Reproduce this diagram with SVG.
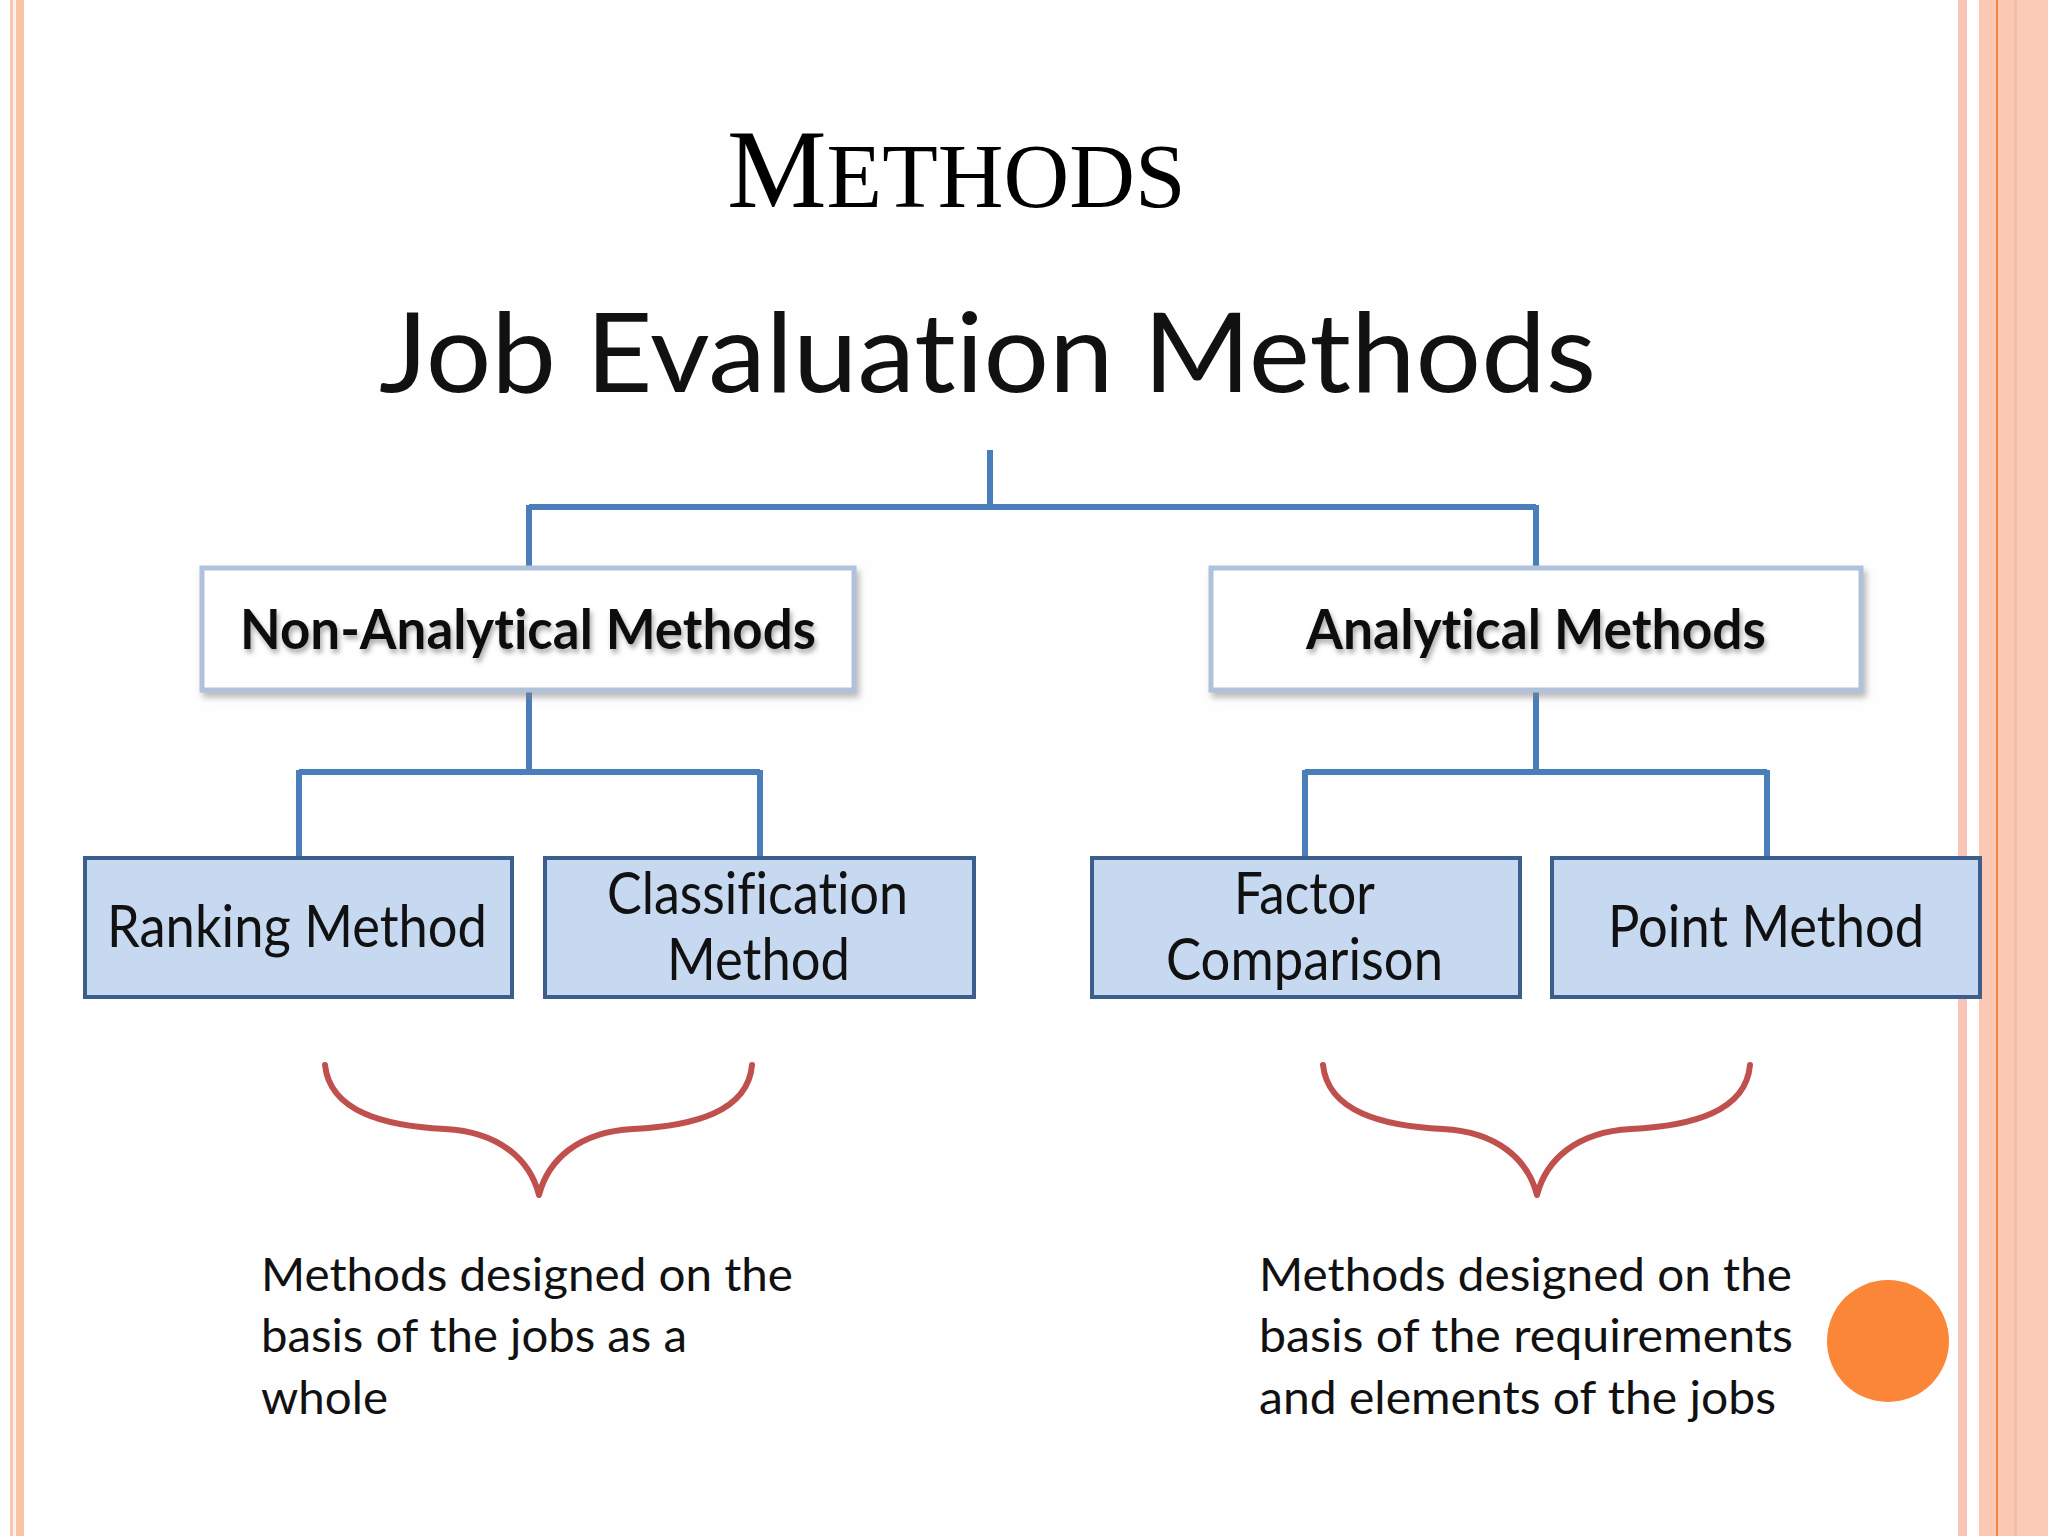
<svg xmlns="http://www.w3.org/2000/svg" width="2048" height="1536" viewBox="0 0 2048 1536">
<defs>
<style>
.conn{fill:none;stroke:#4a7ebb;stroke-width:6;stroke-linecap:butt}
.top{fill:#ffffff;stroke:#afc1db;stroke-width:5}
.bot{fill:#c6d9f0;stroke:#3b5e8c;stroke-width:4}
.brace{fill:none;stroke:#c0504d;stroke-width:6;stroke-linecap:round;stroke-linejoin:round}
.sans{font-family:Lato,"Liberation Sans",sans-serif;fill:#111111;font-variant-ligatures:none;font-feature-settings:"liga" 0,"dlig" 0}
.hb{font-size:55px;font-weight:700}
.bt{font-size:58px}
.dt{font-size:46px}
</style>
<filter id="sh" x="-5%" y="-10%" width="110%" height="130%">
<feDropShadow dx="3" dy="5" stdDeviation="3" flood-color="#7f7f7f" flood-opacity="0.55"/>
</filter>
<filter id="tsh" x="-5%" y="-20%" width="110%" height="150%">
<feDropShadow dx="2" dy="4" stdDeviation="2.5" flood-color="#6f6f6f" flood-opacity="0.6"/>
</filter>
</defs>
<rect width="2048" height="1536" fill="#fefefe"/>
<g id="border">
<rect x="10" y="0" width="3" height="1536" fill="#f7c4b8"/>
<rect x="13" y="0" width="3" height="1536" fill="#fdf1ea"/>
<rect x="16" y="0" width="8" height="1536" fill="#f9c3a5"/>
<rect x="1958" y="0" width="9" height="1536" fill="#f9c5b8"/>
<rect x="1979" y="0" width="69" height="1536" fill="#fbc8b3"/>
<rect x="1996" y="0" width="2" height="1536" fill="#f08548"/>
<rect x="2014" y="0" width="3" height="1536" fill="#f6bda6"/>
<rect x="2017" y="0" width="31" height="1536" fill="#facbb6"/>
</g>
<g id="heading">
<text x="727" y="207" font-family="'Liberation Serif',serif" fill="#000"><tspan font-size="112">M</tspan><tspan font-size="91">ETHODS</tspan></text>
</g>
<g id="root">
<text class="sans" x="379" y="392" font-size="110" textLength="1217" lengthAdjust="spacingAndGlyphs">Job Evaluation Methods</text>
</g>
<g id="connectors">
<path class="conn" d="M990,450 V507 M529,507 H1536 M529,505 V568 M1536,505 V568"/>
<path class="conn" d="M529,690 V772 M299,772 H760 M299,770 V858 M760,770 V858"/>
<path class="conn" d="M1536,690 V772 M1305,772 H1767 M1305,770 V858 M1767,770 V858"/>
</g>
<g id="non-analytical">
<rect class="top" x="202" y="568" width="652" height="122" filter="url(#sh)"/>
<text class="sans hb" x="240" y="649" textLength="576" lengthAdjust="spacingAndGlyphs" filter="url(#tsh)">Non-Analytical Methods</text>
</g>
<g id="analytical">
<rect class="top" x="1211" y="568" width="650" height="122" filter="url(#sh)"/>
<text class="sans hb" x="1306" y="649" textLength="460" lengthAdjust="spacingAndGlyphs" filter="url(#tsh)">Analytical Methods</text>
</g>
<g id="ranking">
<rect class="bot" x="85" y="858" width="427" height="139"/>
<text class="sans bt" x="107" y="947" textLength="380" lengthAdjust="spacingAndGlyphs">Ranking Method</text>
</g>
<g id="classification">
<rect class="bot" x="545" y="858" width="429" height="139"/>
<text class="sans bt" x="607" y="914" textLength="301" lengthAdjust="spacingAndGlyphs">Classification</text>
<text class="sans bt" x="667" y="980" textLength="183" lengthAdjust="spacingAndGlyphs">Method</text>
</g>
<g id="factor">
<rect class="bot" x="1092" y="858" width="428" height="139"/>
<text class="sans bt" x="1234" y="914" textLength="141" lengthAdjust="spacingAndGlyphs">Factor</text>
<text class="sans bt" x="1166" y="980" textLength="277" lengthAdjust="spacingAndGlyphs">Comparison</text>
</g>
<g id="point">
<rect class="bot" x="1552" y="858" width="428" height="139"/>
<text class="sans bt" x="1608" y="947" textLength="316" lengthAdjust="spacingAndGlyphs">Point Method</text>
</g>
<g id="brace-left">
<path class="brace" d="M325,1065 C330,1112 385,1126 445,1129 C500,1132 530,1160 539,1195 C548,1160 578,1132 633,1129 C693,1126 748,1112 752,1065"/>
</g>
<g id="brace-right">
<path class="brace" transform="translate(998,0)" d="M325,1065 C330,1112 385,1126 445,1129 C500,1132 530,1160 539,1195 C548,1160 578,1132 633,1129 C693,1126 748,1112 752,1065"/>
</g>
<g id="desc-left">
<text class="sans dt" x="261" y="1291" textLength="532" lengthAdjust="spacingAndGlyphs">Methods designed on the</text>
<text class="sans dt" x="261" y="1352" textLength="426" lengthAdjust="spacingAndGlyphs">basis of the jobs as a</text>
<text class="sans dt" x="261" y="1414" textLength="127" lengthAdjust="spacingAndGlyphs">whole</text>
</g>
<g id="desc-right">
<text class="sans dt" x="1259" y="1291" textLength="533" lengthAdjust="spacingAndGlyphs">Methods designed on the</text>
<text class="sans dt" x="1259" y="1352" textLength="534" lengthAdjust="spacingAndGlyphs">basis of the requirements</text>
<text class="sans dt" x="1259" y="1414" textLength="517" lengthAdjust="spacingAndGlyphs">and elements of the jobs</text>
</g>
<g id="dot">
<circle cx="1888" cy="1341" r="61" fill="#fb8637"/>
</g>
</svg>
